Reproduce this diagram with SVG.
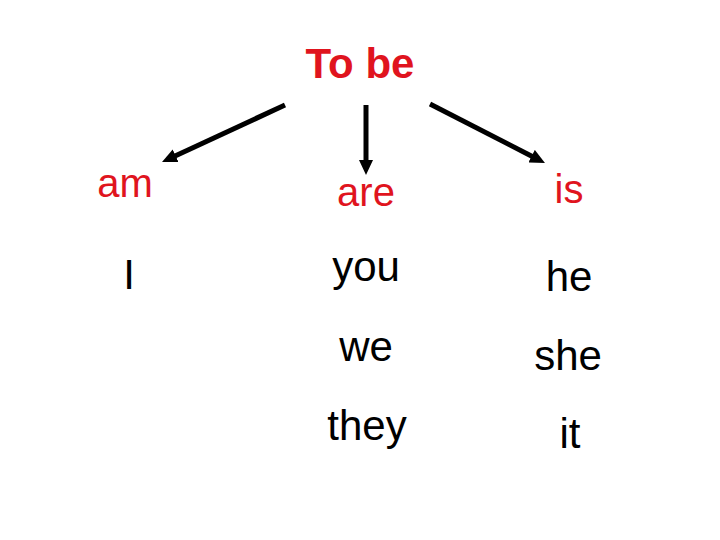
<svg xmlns="http://www.w3.org/2000/svg" width="720" height="540" viewBox="0 0 720 540">
  <style>
    .title { font-family: "Liberation Sans", Arial, sans-serif; font-size: 42px; font-weight: bold; fill: #e0141e; text-anchor: middle; }
    .verb { font-family: "Liberation Sans", Arial, sans-serif; font-size: 40px; fill: #e0141e; text-anchor: middle; }
    .pron { font-family: "Liberation Sans", Arial, sans-serif; font-size: 42px; fill: #000000; text-anchor: middle; }
    .conn { stroke: #000000; stroke-width: 5; fill: none; marker-end: url(#arrow); }
  </style>
  <defs>
    <marker id="arrow" markerUnits="userSpaceOnUse" markerWidth="15" markerHeight="14" refX="3" refY="7" orient="auto" viewBox="0 0 15 14">
      <path d="M0,0 L15,7 L0,14 z" fill="#000000"/>
    </marker>
  </defs>
  <rect width="720" height="540" fill="#ffffff"/>
  <g id="connectors">
    <line class="conn" x1="285" y1="105" x2="172.9" y2="157"/>
    <line class="conn" x1="366" y1="105" x2="366" y2="163"/>
    <line class="conn" x1="430" y1="104" x2="534.3" y2="157.5"/>
  </g>
  <g id="to-be"><text class="title" x="360" y="78">To be</text></g>
  <g id="am"><text class="verb" x="125" y="197">am</text></g>
  <g id="are"><text class="verb" x="366" y="206">are</text></g>
  <g id="is"><text class="verb" x="569" y="203">is</text></g>
  <g id="col-am">
    <text class="pron" x="129" y="289">I</text>
  </g>
  <g id="col-are">
    <text class="pron" x="366" y="281">you</text>
    <text class="pron" x="366" y="361">we</text>
    <text class="pron" x="367" y="440">they</text>
  </g>
  <g id="col-is">
    <text class="pron" x="569" y="291">he</text>
    <text class="pron" x="568" y="370">she</text>
    <text class="pron" x="570" y="448">it</text>
  </g>
</svg>
